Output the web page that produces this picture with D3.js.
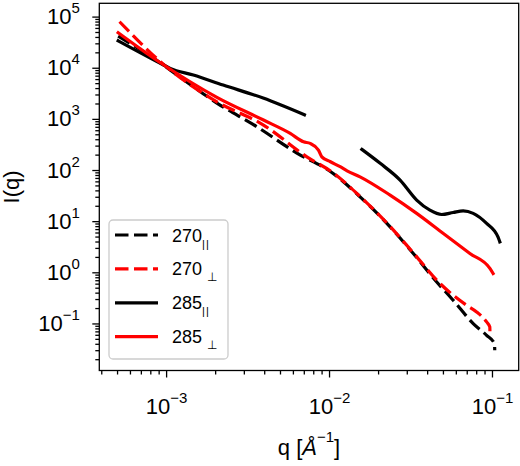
<!DOCTYPE html>
<html><head><meta charset="utf-8">
<script src="https://cdn.jsdelivr.net/npm/d3@7"></script>
<style>
body{margin:0;background:#fff}
svg{display:block;font-family:"Liberation Sans",Arial,Helvetica,sans-serif}
</style>
</head><body>
<svg id="c" width="520" height="466"></svg>
<script>
// ---- data ----
const seriesNames = ["270", "270", "285", "285"];
const seriesSubs = ["||", "\u22a5", "||", "\u22a5"];
const q270par = [5.08e-4, 9.23e-4, 1.17e-3, 2.05e-3, 3.61e-3, 6.35e-3, 1.06e-2, 1.55e-2, 2.37e-2, 3.29e-2, 4.58e-2, 5.78e-2, 7.67e-2, 9.27e-2, 0.1035, 0.104];
const I270par = [4.17e4, 1.24e4, 7.2e3, 2.04e3, 700, 214, 85.7, 29.9, 7.73, 2.33, 0.648, 0.284, 0.0995, 0.0587, 0.0405, 0.0299];
const q270perp = [5.18e-4, 9.23e-4, 2.05e-3, 3.96e-3, 7.31e-3, 1.06e-2, 1.55e-2, 2.37e-2, 3.29e-2, 4.80e-2, 6.98e-2, 8.05e-2, 9.27e-2, 9.70e-2, 9.72e-2];
const I270perp = [7.94e4, 1.31e4, 2.16e3, 757, 181, 88, 30.5, 7.9, 2.4, 0.604, 0.227, 0.168, 0.107, 0.0855, 0.0587];
const q285par = [5.08e-4, 9.23e-4, 1.06e-3, 1.47e-3, 2.24e-3, 3.94e-3, 7.06e-3, null, 1.59e-2, 2.06e-2, 2.73e-2, 3.45e-2, 4.16e-2, 4.91e-2, 5.78e-2, 6.66e-2, 7.67e-2, 9.27e-2, 0.109, 0.1117];
const I285par = [3.37e4, 1.22e4, 9.72e3, 7.19e3, 4.58e3, 2.55e3, 1.20e3, null, 253, 135, 63.4, 25.8, 16.4, 13.5, 14.8, 15.9, 14.2, 9.02, 4.85, 3.94];
const q285perp = [5.08e-4, 9.23e-4, 2.05e-3, 3.96e-3, 5.78e-3, 6.97e-3, 7.66e-3, 8.61e-3, 9.03e-3, 1.02e-2, 1.17e-2, 1.29e-2, 1.55e-2, 2.37e-2, 3.45e-2, 5.03e-2, 7.32e-2, 9.71e-2, 0.1016];
const I285perp = [4.84e4, 1.25e4, 2.64e3, 949, 520, 356, 332, 245, 181, 145, 116, 96.4, 73.6, 32.3, 14.2, 5.74, 2.33, 1.19, 0.946];
const xMajorTicks = [1e-3, 1e-2, 1e-1];
const yMajorTicks = [1e-1, 1e0, 1e1, 1e2, 1e3, 1e4, 1e5];

// ---- layout ----
const m = {l: 99.3, r: 518.7, t: 3.3, b: 370.5};
const svg = d3.select("#c");
const x = d3.scaleLog().domain([Math.pow(10, -3.41), Math.pow(10, -0.836)]).range([m.l, m.r]);
const y = d3.scaleLog().domain([Math.pow(10, -1.92), Math.pow(10, 5.26)]).range([m.b, m.t]);

svg.append("defs").append("clipPath").attr("id", "clip").append("rect")
  .attr("x", m.l).attr("y", m.t).attr("width", m.r - m.l).attr("height", m.b - m.t);

const series = [
  {name: seriesNames[0], sub: seriesSubs[0], q: q270par, I: I270par, color: "#000000", dash: "13.5,5.5"},
  {name: seriesNames[1], sub: seriesSubs[1], q: q270perp, I: I270perp, color: "#ff0000", dash: "13.5,5.5"},
  {name: seriesNames[2], sub: seriesSubs[2], q: q285par, I: I285par, color: "#000000", dash: null},
  {name: seriesNames[3], sub: seriesSubs[3], q: q285perp, I: I285perp, color: "#ff0000", dash: null}
];

const line = d3.line()
  .defined(d => d[0] != null && d[1] != null)
  .x(d => x(d[0])).y(d => y(d[1]))
  .curve(d3.curveMonotoneX);

const plot = svg.append("g").attr("clip-path", "url(#clip)");
series.forEach(s => {
  plot.append("path")
    .attr("d", line(d3.zip(s.q, s.I)))
    .attr("fill", "none")
    .attr("stroke", s.color)
    .attr("stroke-width", 3.2)
    .attr("stroke-linejoin", "round")
    .attr("stroke-linecap", s.dash ? "butt" : "square")
    .attr("stroke-dasharray", s.dash);
});

// ---- axes ----
function minorTicks(dom) {
  const out = [];
  const e0 = Math.floor(Math.log10(dom[0])), e1 = Math.ceil(Math.log10(dom[1]));
  for (let e = e0; e <= e1; e++) for (let k = 2; k <= 9; k++) {
    const v = k * Math.pow(10, e);
    if (v >= dom[0] && v <= dom[1]) out.push(v);
  }
  return out;
}
function styleAxis(g) {
  g.select(".domain").remove();
  g.selectAll(".tick line").attr("stroke", "#000").attr("stroke-width", 1.3);
}
const gxMin = svg.append("g").attr("transform", `translate(0,${m.b})`)
  .call(d3.axisBottom(x).tickValues(minorTicks(x.domain())).tickSize(4).tickFormat(""));
const gxMaj = svg.append("g").attr("transform", `translate(0,${m.b})`)
  .call(d3.axisBottom(x).tickValues(xMajorTicks).tickSize(7).tickFormat(""));
const gyMin = svg.append("g").attr("transform", `translate(${m.l},0)`)
  .call(d3.axisLeft(y).tickValues(minorTicks(y.domain())).tickSize(4).tickFormat(""));
const gyMaj = svg.append("g").attr("transform", `translate(${m.l},0)`)
  .call(d3.axisLeft(y).tickValues(yMajorTicks).tickSize(7).tickFormat(""));
[gxMin, gxMaj, gyMin, gyMaj].forEach(styleAxis);

function sciLabel(textSel, v) {
  const e = Math.round(Math.log10(v));
  textSel.append("tspan").text("10");
  textSel.append("tspan").attr("font-size", 15).attr("dy", -11)
    .text(e < 0 ? "\u2212" + (-e) : String(e));
}
gxMaj.selectAll(".tick").each(function(d) {
  const t = d3.select(this).append("text")
    .attr("x", 0).attr("y", 43).attr("text-anchor", "middle")
    .attr("fill", "#000").attr("font-size", 22);
  sciLabel(t, d);
});
gyMaj.selectAll(".tick").each(function(d) {
  const t = d3.select(this).append("text")
    .attr("x", -19.5).attr("y", 7).attr("text-anchor", "end")
    .attr("fill", "#000").attr("font-size", 22);
  sciLabel(t, d);
});

// frame
svg.append("rect").attr("x", m.l).attr("y", m.t).attr("width", m.r - m.l).attr("height", m.b - m.t)
  .attr("fill", "none").attr("stroke", "#000").attr("stroke-width", 1.3);

// axis titles
const xt = svg.append("text").attr("x", (m.l + m.r) / 2).attr("y", 455)
  .attr("text-anchor", "middle").attr("font-size", 22).attr("fill", "#000");
xt.append("tspan").text("q [");
xt.append("tspan").attr("font-style", "italic").text("\u00c5");
xt.append("tspan").attr("font-size", 15).attr("dy", -13).text("\u22121");
xt.append("tspan").attr("dy", 13).text("]");

svg.append("text").attr("transform", `translate(19,${(m.t + m.b) / 2}) rotate(-90)`)
  .attr("text-anchor", "middle").attr("font-size", 22).attr("fill", "#000").text("I(q)");

// ---- legend ----
const lg = svg.append("g");
lg.append("rect").attr("x", 109).attr("y", 220).attr("width", 119).attr("height", 139).attr("rx", 4)
  .attr("fill", "#fff").attr("fill-opacity", 0.8).attr("stroke", "#cccccc").attr("stroke-width", 1.3);
series.forEach((s, i) => {
  const yy = 235 + i * 33.9;
  lg.append("line").attr("x1", 115).attr("x2", 158).attr("y1", yy).attr("y2", yy)
    .attr("stroke", s.color).attr("stroke-width", 3.2).attr("stroke-dasharray", s.dash);
  const t = lg.append("text").attr("x", 172).attr("y", yy + 6.5).attr("font-size", 18).attr("fill", "#000");
  const perp = s.sub === "\u22a5";
  t.append("tspan").text(perp ? s.name + " " : s.name);
  t.append("tspan").attr("font-size", perp ? 12 : 11).attr("dy", 6)
    .attr("letter-spacing", perp ? 0 : 1)
    .attr("font-family", perp ? "'DejaVu Sans',sans-serif" : null).text(s.sub);
});
</script>
</body></html>
